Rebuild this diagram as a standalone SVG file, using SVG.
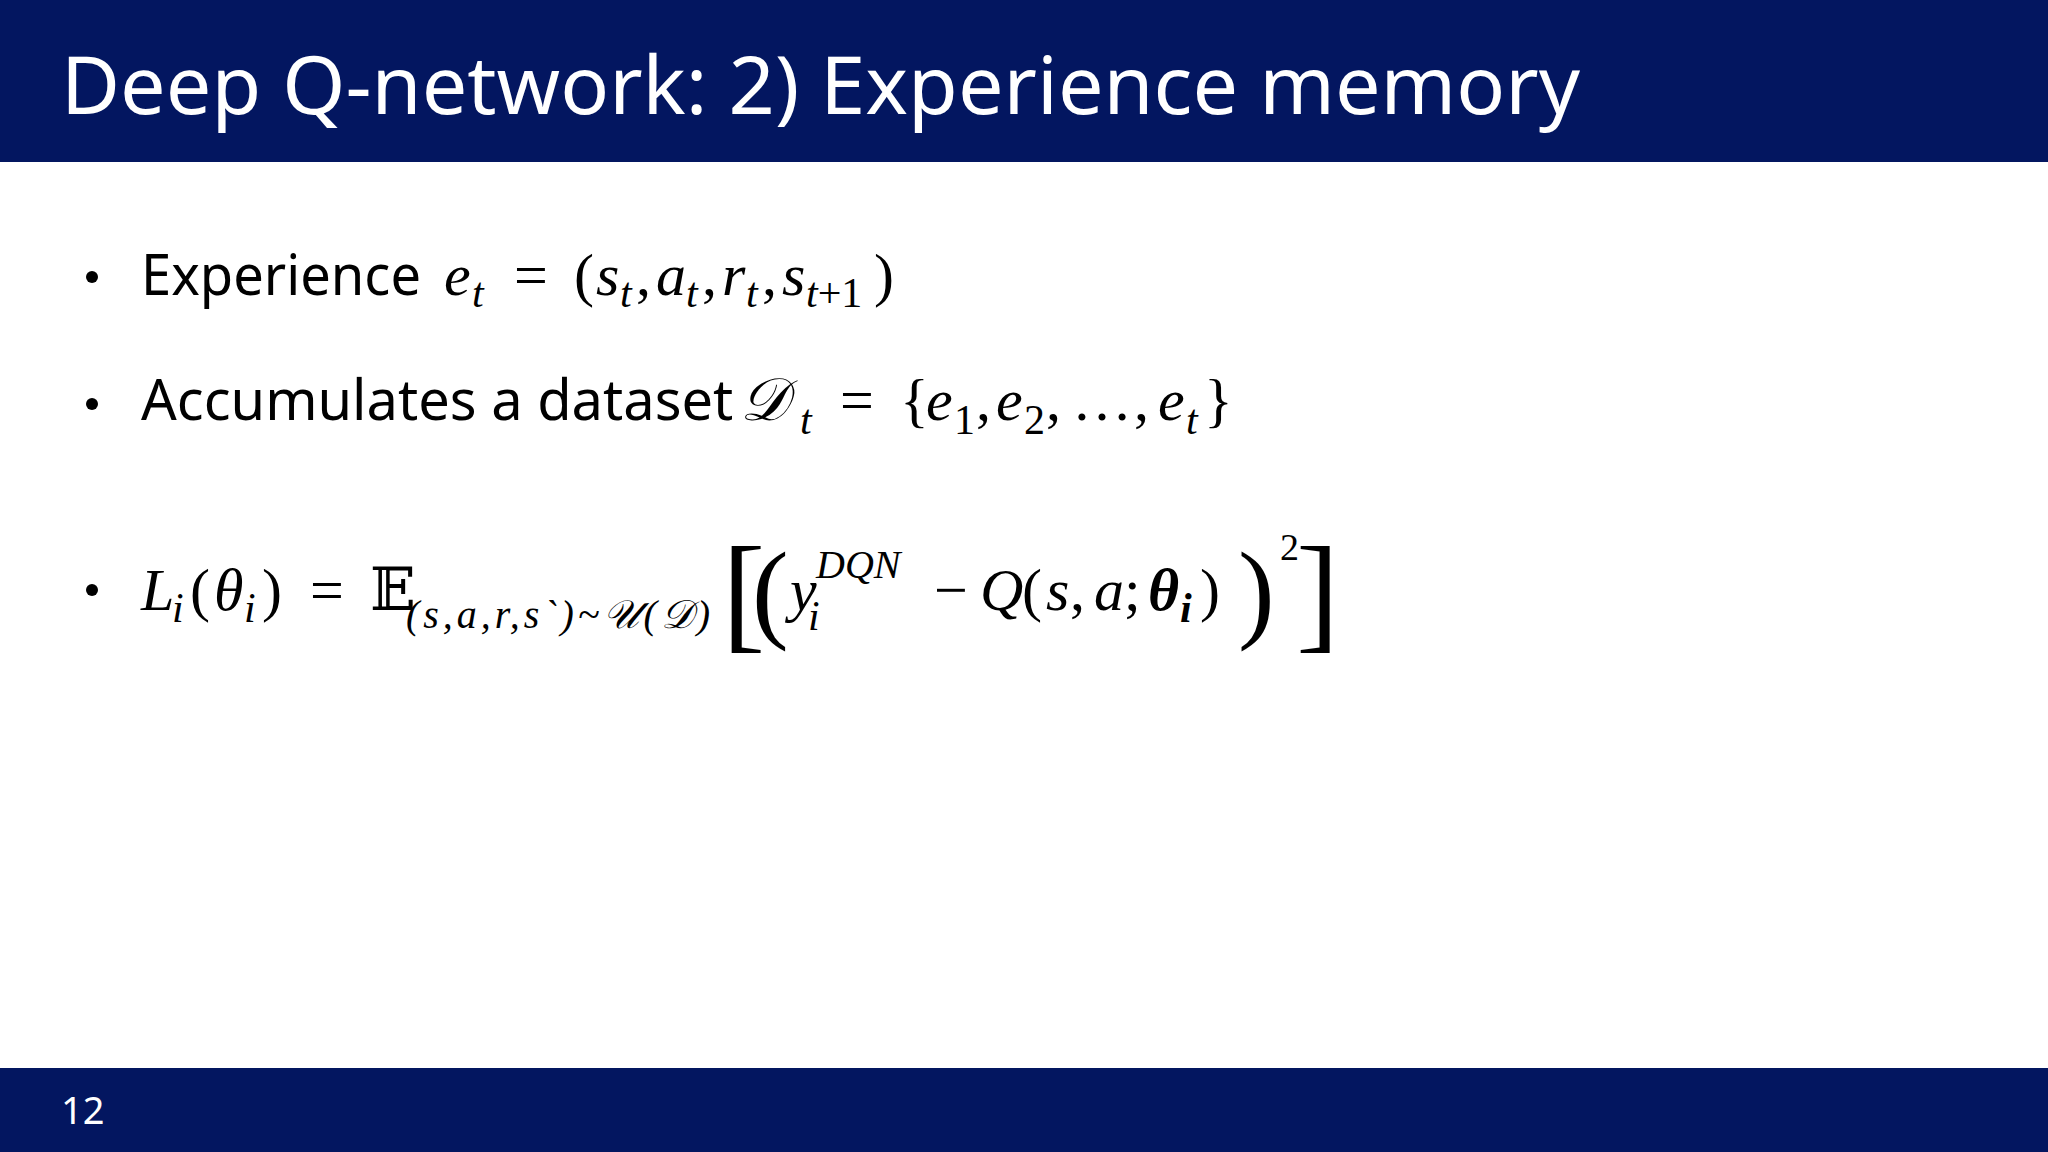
<svg xmlns="http://www.w3.org/2000/svg" width="2048" height="1152" viewBox="0 0 2048 1152">
<style>
.t{font-family:"Noto Sans","Liberation Sans",sans-serif;fill:#000}
.m{font-family:"Liberation Serif","DejaVu Serif",serif;font-style:italic;fill:#000}
.r{font-style:normal}
.w{fill:#fff}
.br{font-family:"Liberation Serif",serif;fill:#000}
</style>
<rect width="2048" height="1152" fill="#fff"/>
<g id="header"><rect x="0" y="0" width="2048" height="162" fill="#031660"/>
<text class="t w" x="61" y="114" font-size="80" textLength="1519" lengthAdjust="spacingAndGlyphs">Deep Q-network: 2) Experience memory</text></g>
<g id="footer"><rect x="0" y="1068" width="2048" height="84" fill="#031660"/>
<text class="t w" x="61" y="1124" font-size="38">12</text></g>
<g id="b1">
<circle cx="92" cy="277" r="6" fill="#000"/>
<text class="t" x="141" y="295" font-size="56" textLength="280" lengthAdjust="spacingAndGlyphs">Experience</text>
<text class="m" y="295" font-size="60"><tspan x="444">e</tspan><tspan x="472" y="307" font-size="42">t</tspan><tspan class="r" x="514" y="295">=</tspan><tspan class="r" x="574">(</tspan><tspan x="596">s</tspan><tspan x="620" y="307" font-size="42">t</tspan><tspan class="r" x="636" y="295">,</tspan><tspan x="656">a</tspan><tspan x="686" y="307" font-size="42">t</tspan><tspan class="r" x="702" y="295">,</tspan><tspan x="722">r</tspan><tspan x="746" y="307" font-size="42">t</tspan><tspan class="r" x="762" y="295">,</tspan><tspan x="782">s</tspan><tspan x="806" y="307" font-size="42">t</tspan><tspan class="r" font-size="42">+1</tspan><tspan class="r" x="874" y="295">)</tspan></text>
</g>
<g id="b2">
<circle cx="92" cy="404" r="6" fill="#000"/>
<text class="t" x="141" y="420" font-size="56">Accumulates a dataset</text>
<text class="m" y="420" font-size="60"><tspan x="740">𝒟</tspan><tspan x="800" y="434" font-size="42">t</tspan><tspan class="r" x="840" y="420">=</tspan><tspan class="r" x="900">{</tspan><tspan x="926">e</tspan><tspan class="r" x="954" y="434" font-size="42">1</tspan><tspan class="r" x="976" y="420">,</tspan><tspan x="996">e</tspan><tspan class="r" x="1024" y="434" font-size="42">2</tspan><tspan class="r" x="1046" y="420">,</tspan><tspan class="r" x="1072">…</tspan><tspan class="r" x="1134">,</tspan><tspan x="1158">e</tspan><tspan x="1186" y="434" font-size="42">t</tspan><tspan class="r" x="1204" y="420">}</tspan></text>
</g>
<g id="b3">
<circle cx="92" cy="590" r="6" fill="#000"/>
<text class="m" y="610" font-size="60"><tspan x="141">L</tspan><tspan x="172" y="622" font-size="42">i</tspan><tspan class="r" x="190" y="610">(</tspan><tspan x="214">θ</tspan><tspan x="244" y="622" font-size="42">i</tspan><tspan class="r" x="262" y="610">)</tspan><tspan class="r" x="310">=</tspan><tspan class="r" x="370">𝔼</tspan></text>
<text class="m" x="406" y="628" font-size="40" textLength="304" lengthAdjust="spacing">(s,a,r,s`)~𝒰(𝒟)</text>
<text class="br" x="722" y="636" font-size="130">[</text>
<text class="br" x="752" y="628" font-size="110">(</text>
<text class="m" y="610" font-size="60"><tspan x="790">y</tspan><tspan x="808" y="630" font-size="42">i</tspan><tspan x="816" y="578" font-size="40">DQN</tspan><tspan class="r" x="934" y="610">−</tspan><tspan x="980">Q</tspan><tspan class="r" x="1022">(</tspan><tspan x="1046">s</tspan><tspan class="r" x="1070">,</tspan><tspan x="1094">a</tspan><tspan class="r" x="1124">;</tspan><tspan x="1148" font-weight="bold">θ</tspan><tspan x="1180" y="622" font-size="42" font-weight="bold">i</tspan><tspan class="r" x="1200" y="610">)</tspan></text>
<text class="br" x="1238" y="628" font-size="110">)</text>
<text class="br" x="1280" y="560" font-size="38">2</text>
<text class="br" x="1296" y="636" font-size="130">]</text>
</g>
</svg>
